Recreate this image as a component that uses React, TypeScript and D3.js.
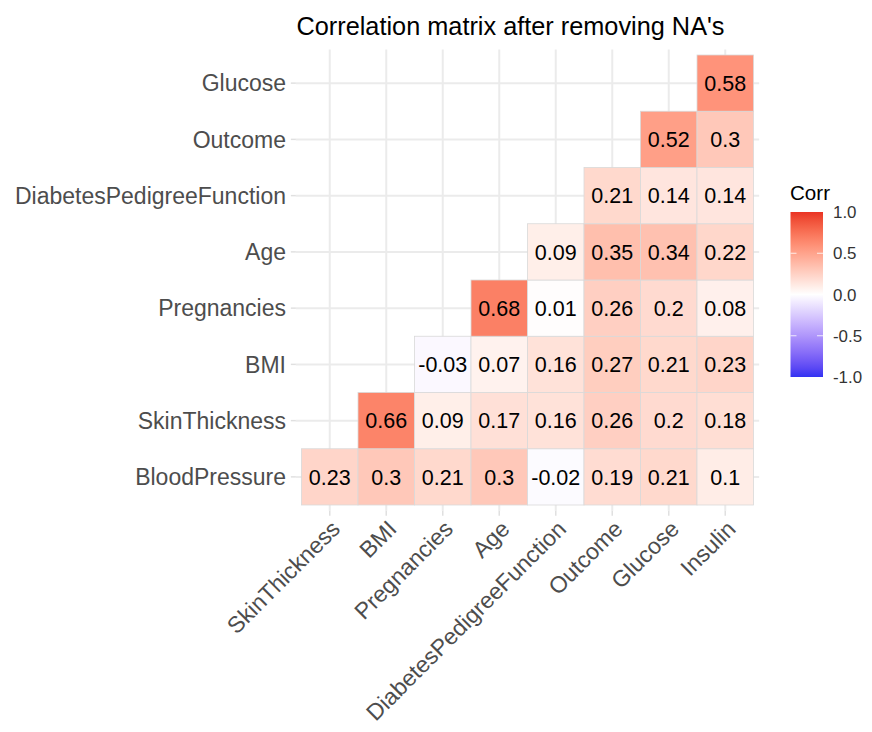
import React from "react";
import * as d3 from "d3";

const xVars = ["SkinThickness", "BMI", "Pregnancies", "Age", "DiabetesPedigreeFunction", "Outcome", "Glucose", "Insulin"];
const yVars = ["BloodPressure", "SkinThickness", "BMI", "Pregnancies", "Age", "DiabetesPedigreeFunction", "Outcome", "Glucose"];

// lower-triangle rows: row i holds values for columns i..7
const rowBloodPressure = [0.23, 0.3, 0.21, 0.3, -0.02, 0.19, 0.21, 0.1];
const rowSkinThickness = [0.66, 0.09, 0.17, 0.16, 0.26, 0.2, 0.18];
const rowBMI = [-0.03, 0.07, 0.16, 0.27, 0.21, 0.23];
const rowPregnancies = [0.68, 0.01, 0.26, 0.2, 0.08];
const rowAge = [0.09, 0.35, 0.34, 0.22];
const rowDPF = [0.21, 0.14, 0.14];
const rowOutcome = [0.52, 0.3];
const rowGlucose = [0.58];

const rows = [rowBloodPressure, rowSkinThickness, rowBMI, rowPregnancies, rowAge, rowDPF, rowOutcome, rowGlucose];
const legendTicks = [1, 0.5, 0, -0.5, -1];

const FONT = "'Liberation Sans', Arial, Helvetica, sans-serif";
const LOW = "#3232F2";
const MID = "#FFFFFF";
const HIGH = "#EA3323";

export default function App() {
  const W = 872, H = 732;
  const x = d3.scaleBand<string>().domain(xVars).range([301.5, 753.5]).padding(0);
  const y = d3.scaleBand<string>().domain(yVars).range([505, 55]).padding(0);
  const bw = x.bandwidth();
  const bh = y.bandwidth();
  const color = d3.scaleLinear<string>().domain([-1, 0, 1]).range([LOW, MID, HIGH]).interpolate(d3.interpolateLab);

  const panelL = 301.5 - 0.1 * bw, panelR = 753.5 + 0.1 * bw;
  const panelT = 55 - 0.1 * bh, panelB = 505 + 0.1 * bh;

  const cells: { r: string; c: string; v: number }[] = [];
  rows.forEach((vals, i) => {
    vals.forEach((v, k) => {
      cells.push({ r: yVars[i], c: xVars[i + k], v });
    });
  });

  const legY = d3.scaleLinear().domain([-1, 1]).range([377, 212]);
  const legX0 = 790.5, legX1 = 823;
  const gradStops = d3.range(0, 21).map((i) => -1 + i * 0.1);

  return (
    <svg width={W} height={H} style={{ position: "absolute", left: 0, top: 0 }} fontFamily={FONT}>
      <rect width={W} height={H} fill="#fff" />
      <defs>
        <linearGradient id="corrgrad" x1="0" y1="1" x2="0" y2="0">
          {gradStops.map((v, i) => (
            <stop key={i} offset={`${(i / 20) * 100}%`} stopColor={color(v)} />
          ))}
        </linearGradient>
      </defs>
      {/* grid */}
      {xVars.map((v) => (
        <line key={"gx" + v} x1={x(v)! + bw / 2} x2={x(v)! + bw / 2} y1={panelT} y2={panelB} stroke="#EBEBEB" strokeWidth={2} />
      ))}
      {yVars.map((v) => (
        <line key={"gy" + v} y1={y(v)! + bh / 2} y2={y(v)! + bh / 2} x1={panelL} x2={panelR} stroke="#EBEBEB" strokeWidth={2} />
      ))}
      {/* ticks */}
      {xVars.map((v) => (
        <line key={"tx" + v} x1={x(v)! + bw / 2} x2={x(v)! + bw / 2} y1={panelB} y2={panelB + 5} stroke="#E0E0E0" strokeWidth={1.5} />
      ))}
      {yVars.map((v) => (
        <line key={"ty" + v} y1={y(v)! + bh / 2} y2={y(v)! + bh / 2} x1={panelL - 5} x2={panelL} stroke="#E0E0E0" strokeWidth={1.5} />
      ))}
      {/* tiles */}
      {cells.map((d, i) => (
        <rect key={"c" + i} x={x(d.c)!} y={y(d.r)!} width={bw} height={bh} fill={color(d.v)} stroke="#D9D9D9" strokeWidth={0.8} />
      ))}
      {cells.map((d, i) => (
        <text key={"l" + i} x={x(d.c)! + bw / 2} y={y(d.r)! + bh / 2} dy="0.36em" textAnchor="middle" fontSize={21.5} fill="#000">
          {String(d.v)}
        </text>
      ))}
      {/* y axis labels */}
      {yVars.map((v) => (
        <text key={"yl" + v} x={286} y={y(v)! + bh / 2} dy="0.36em" textAnchor="end" fontSize={23} fill="#4D4D4D">
          {v}
        </text>
      ))}
      {/* x axis labels */}
      {xVars.map((v) => (
        <text
          key={"xl" + v}
          transform={`translate(${x(v)! + bw / 2},${panelB + 8}) rotate(-45)`}
          dy="0.72em"
          textAnchor="end"
          fontSize={23}
          fill="#4D4D4D"
        >
          {v}
        </text>
      ))}
      {/* title */}
      <text x={296.5} y={35} fontSize={25.3} fill="#000">Correlation matrix after removing NA's</text>
      {/* legend */}
      <text x={790} y={200} fontSize={20.6} fill="#000">Corr</text>
      <rect x={legX0} y={212} width={legX1 - legX0} height={165} fill="url(#corrgrad)" />
      {legendTicks.map((t) => (
        <g key={"lt" + t}>
          {t !== 1 && t !== -1 && (
            <>
              <line x1={legX0} x2={legX0 + 6} y1={legY(t)} y2={legY(t)} stroke="#fff" strokeWidth={1} opacity={0.8} />
              <line x1={legX1 - 6} x2={legX1} y1={legY(t)} y2={legY(t)} stroke="#fff" strokeWidth={1} opacity={0.8} />
            </>
          )}
          <text x={833} y={legY(t)} dy="0.36em" fontSize={16.9} fill="#333">
            {t.toFixed(1)}
          </text>
        </g>
      ))}
    </svg>
  );
}
